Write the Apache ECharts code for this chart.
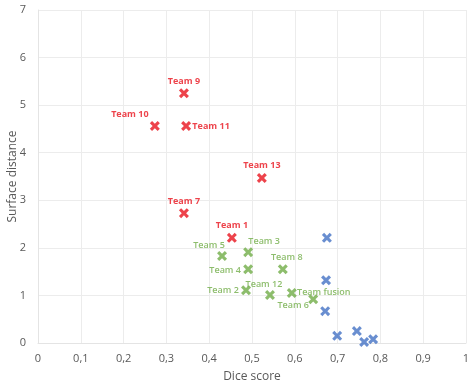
<!DOCTYPE html>
<html><head><meta charset="utf-8">
<script src="https://cdn.jsdelivr.net/npm/echarts@6/dist/echarts.min.js"></script>
<style>html,body{margin:0;padding:0;background:#fff}#c{width:474px;height:386px}</style>
</head><body><div id="c"></div>
<script>
// Data
var redNames = ['Team 9','Team 10','Team 11','Team 13','Team 7','Team 1'];
var redX = [0.341,0.273,0.346,0.523,0.341,0.453];
var redY = [5.25,4.56,4.56,3.47,2.73,2.21];
var greenNames = ['Team 5','Team 3','Team 4','Team 8','Team 2','Team 12','Team fusion','Team 6'];
var greenX = [0.430,0.491,0.491,0.572,0.486,0.542,0.593,0.643];
var greenY = [1.83,1.91,1.55,1.55,1.11,1.01,1.05,0.92];
var blueX = [0.675,0.673,0.671,0.699,0.745,0.762,0.783];
var blueY = [2.21,1.32,0.67,0.15,0.25,0.02,0.08];
var xTicks = ['0','0,1','0,2','0,3','0,4','0,5','0,6','0,7','0,8','0,9','1'];

// label placement (offsets in px, relative to marker centre)
var redLabelOffsets = [[0,-12],[-25,-12],[25,0],[0,-12],[0,-12],[0,-12]];
var greenLabelOffsets = [[-13,-11],[16,-11],[-23,1],[4,-12],[-23,0],[-6,-11],[32,-1],[-20,6]];

var cross = 'path://M0,2.2L2.2,0L5,2.8L7.8,0L10,2.2L7.2,5L10,7.8L7.8,10L5,7.2L2.2,10L0,7.8L2.8,5Z';
var RED = '#e8141e', GREEN = '#70ad47', BLUE = '#4472c4';
var FONT = '"Open Sans", "Liberation Sans", sans-serif';

function build(names, xs, ys, offs, color, bold) {
  return xs.map(function (x, i) {
    var d = { value: [x, ys[i]] };
    if (names) {
      d.name = names[i];
      d.label = { show: true, position: 'inside', offset: offs[i], formatter: '{b}',
        color: color, fontSize: 9, fontWeight: bold ? 'bold' : 600, fontFamily: FONT };
    }
    return d;
  });
}

var chart = echarts.init(document.getElementById('c'));
chart.setOption({
  animation: false,
  grid: { left: 38, right: 8, top: 10, bottom: 43, containLabel: false, outerBoundsMode: 'none' },
  xAxis: {
    type: 'value', min: 0, max: 1, interval: 0.1,
    name: 'Dice score', nameLocation: 'middle', nameGap: 28, nameMoveOverlap: false,
    nameTextStyle: { color: '#595959', fontSize: 12, fontFamily: FONT },
    axisLine: { show: true, lineStyle: { color: '#e4e4e4' } },
    axisTick: { show: false },
    axisLabel: { color: '#595959', fontSize: 11, margin: 10, fontFamily: FONT,
      formatter: function (v) { return xTicks[Math.round(v * 10)]; } },
    splitLine: { show: true, lineStyle: { color: '#ececec' } }
  },
  yAxis: {
    type: 'value', min: 0, max: 7, interval: 1,
    name: 'Surface distance', nameLocation: 'middle', nameGap: 19, nameMoveOverlap: false,
    nameTextStyle: { color: '#595959', fontSize: 12, fontFamily: FONT },
    axisLine: { show: true, lineStyle: { color: '#e4e4e4' } },
    axisTick: { show: false },
    axisLabel: { color: '#595959', fontSize: 11, margin: 12, fontFamily: FONT },
    splitLine: { show: true, lineStyle: { color: '#ececec' } }
  },
  series: [
    { type: 'scatter', symbol: cross, symbolSize: 10, itemStyle: { color: BLUE },
      data: build(null, blueX, blueY, null, BLUE) },
    { type: 'scatter', symbol: cross, symbolSize: 10, itemStyle: { color: GREEN },
      data: build(greenNames, greenX, greenY, greenLabelOffsets, GREEN, false) },
    { type: 'scatter', symbol: cross, symbolSize: 10, itemStyle: { color: RED },
      data: build(redNames, redX, redY, redLabelOffsets, RED, true) }
  ]
});
</script></body></html>
